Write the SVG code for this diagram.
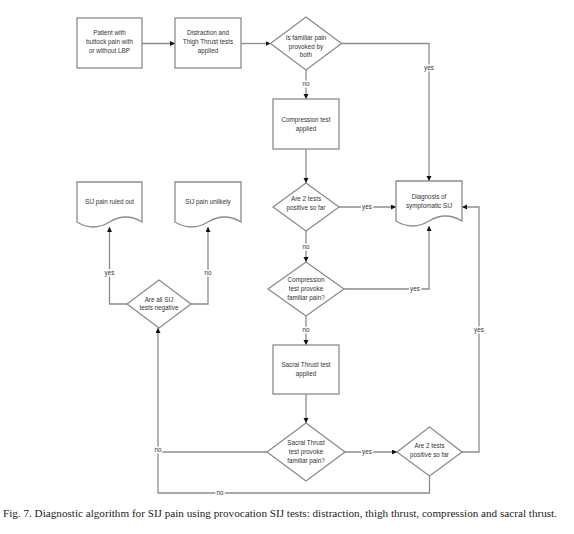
<svg xmlns="http://www.w3.org/2000/svg" width="574" height="534" viewBox="0 0 574 534">
<style>
.n{fill:#fff;stroke:#8c8c8c;stroke-width:1.3}
.t{font-family:"Liberation Sans",Arial,sans-serif;font-size:6.3px;fill:#333;text-anchor:middle}
.c{fill:none;stroke:#8c8c8c;stroke-width:1.3}
.a{marker-end:url(#ah)}
.l{font-family:"Liberation Sans",Arial,sans-serif;font-size:6.3px;fill:#333;text-anchor:middle;stroke:#fff;stroke-width:3;paint-order:stroke}
.cap{font-family:"Liberation Serif","Times New Roman",serif;font-size:9.8px;fill:#222}
</style>
<defs>
<marker id="ah" markerUnits="userSpaceOnUse" markerWidth="6" markerHeight="6" refX="5" refY="2.5" orient="auto">
<path d="M0,0 L5,2.5 L0,5 z" fill="#111"/>
</marker>
</defs>
<rect width="574" height="534" fill="#fff"/>
<g id="connectors">
<path class="c a" d="M142,43.5 H175"/>
<path class="c a" d="M241,43.5 H270.5"/>
<path class="c a" d="M306,70 V99"/>
<path class="c a" d="M341.5,43.5 H429 V181"/>
<path class="c a" d="M306,149 V183"/>
<path class="c a" d="M339,207 H396"/>
<path class="c a" d="M306,231 V262"/>
<path class="c a" d="M344,289 H429 V226"/>
<path class="c a" d="M306,316 V345"/>
<path class="c a" d="M306,394 V423"/>
<path class="c a" d="M345,452 H397"/>
<path class="c a" d="M462,452 H479 V207 H462"/>
<path class="c a" d="M429.5,476 V493 H158 V328"/>
<path class="c" d="M267,452 H158"/>
<path class="c a" d="M127,304 H109.5 V227"/>
<path class="c a" d="M191,304 H208 V227"/>
<text class="l" x="306" y="86">no</text>
<text class="l" x="429" y="70">yes</text>
<text class="l" x="367" y="209">yes</text>
<text class="l" x="306" y="249">no</text>
<text class="l" x="415" y="291">yes</text>
<text class="l" x="306" y="332">no</text>
<text class="l" x="367" y="454">yes</text>
<text class="l" x="479" y="332">yes</text>
<text class="l" x="220" y="495">no</text>
<text class="l" x="158" y="452">no</text>
<text class="l" x="109.5" y="275">yes</text>
<text class="l" x="208" y="275">no</text>
</g>
<g id="patient">
<rect class="n" x="77" y="18" width="65" height="50"/>
<text class="t" x="109.5" y="35">Patient with</text>
<text class="t" x="109.5" y="44">buttock pain with</text>
<text class="t" x="109.5" y="53">or without LBP</text>
</g>
<g id="distraction">
<rect class="n" x="175" y="18" width="66" height="50"/>
<text class="t" x="208" y="35">Distraction and</text>
<text class="t" x="208" y="44">Thigh Thrust tests</text>
<text class="t" x="208" y="53">applied</text>
</g>
<g id="familiar-both">
<polygon class="n" points="306,17 341.5,43.5 306,70 270.5,43.5"/>
<text class="t" x="306" y="40">Is familiar pain</text>
<text class="t" x="306" y="48.5">provoked by</text>
<text class="t" x="306" y="57">both</text>
</g>
<g id="compression">
<rect class="n" x="273" y="99" width="66" height="50"/>
<text class="t" x="306" y="122">Compression test</text>
<text class="t" x="306" y="131">applied</text>
</g>
<g id="two-tests-1">
<polygon class="n" points="306,183 339,207 306,231 273,207"/>
<text class="t" x="306" y="201">Are 2 tests</text>
<text class="t" x="306" y="210">positive so far</text>
</g>
<g id="diagnosis">
<path class="n" d="M396,181 H462 V221 Q445.5,211 429,221 Q412.5,231 396,221 Z"/>
<text class="t" x="429" y="199">Diagnosis of</text>
<text class="t" x="429" y="208">symptomatic SIJ</text>
</g>
<g id="compression-familiar">
<polygon class="n" points="306,262 344,289 306,316 268,289"/>
<text class="t" x="306" y="282">Compression</text>
<text class="t" x="306" y="291">test provoke</text>
<text class="t" x="306" y="300">familiar pain?</text>
</g>
<g id="sacral">
<rect class="n" x="273" y="345" width="66" height="49"/>
<text class="t" x="306" y="367">Sacral Thrust test</text>
<text class="t" x="306" y="376">applied</text>
</g>
<g id="sacral-familiar">
<polygon class="n" points="306,423 345,452 306,481 267,452"/>
<text class="t" x="306" y="445">Sacral Thrust</text>
<text class="t" x="306" y="454">test provoke</text>
<text class="t" x="306" y="463">familiar pain?</text>
</g>
<g id="two-tests-2">
<polygon class="n" points="429.5,427 462,452 429.5,476 397,452"/>
<text class="t" x="429.5" y="448">Are 2 tests</text>
<text class="t" x="429.5" y="457">positive so far</text>
</g>
<g id="all-negative">
<polygon class="n" points="159,280 191,304 159,328 127,304"/>
<text class="t" x="159" y="302">Are all SIJ</text>
<text class="t" x="159" y="310">tests negative</text>
</g>
<g id="ruled-out">
<path class="n" d="M77,182 H142 V222 Q125.75,212 109.5,222 Q93.25,232 77,222 Z"/>
<text class="t" x="109.5" y="204">SIJ pain ruled out</text>
</g>
<g id="unlikely">
<path class="n" d="M175,182 H241 V222 Q224.5,212 208,222 Q191.5,232 175,222 Z"/>
<text class="t" x="208" y="204">SIJ pain unlikely</text>
</g>
<text class="cap" x="3" y="517" textLength="554" lengthAdjust="spacingAndGlyphs">Fig. 7.  Diagnostic algorithm for SIJ pain using provocation SIJ tests: distraction, thigh thrust, compression and sacral thrust.</text>
</svg>
